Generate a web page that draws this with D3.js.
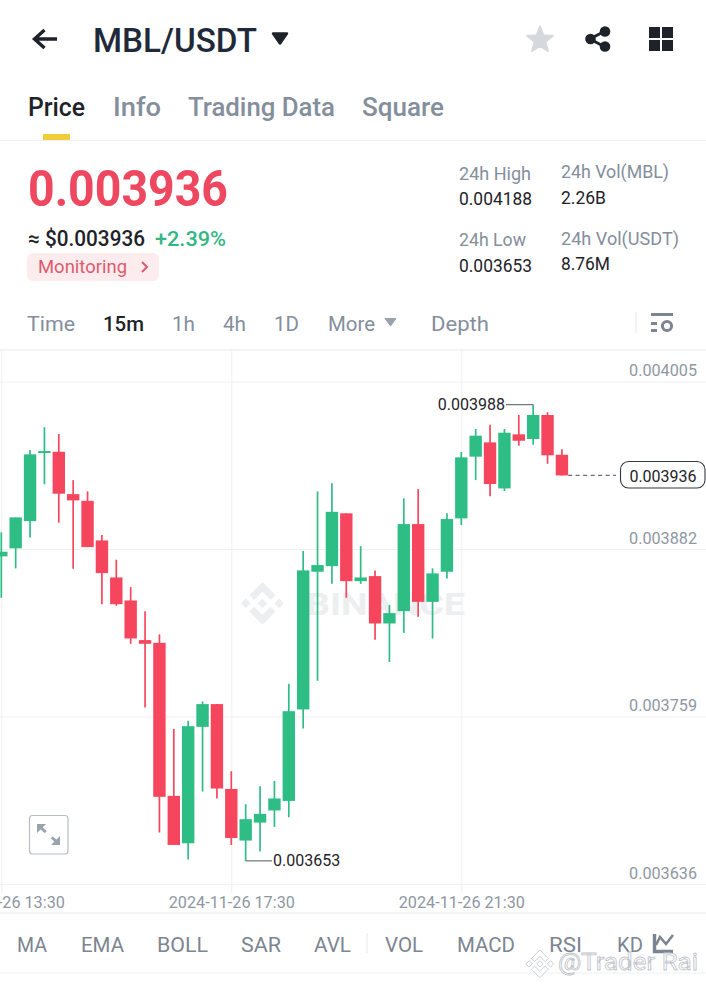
<!DOCTYPE html>
<html>
<head>
<meta charset="utf-8">
<title>MBL/USDT</title>
<script src="https://cdnjs.cloudflare.com/ajax/libs/d3/7.8.5/d3.min.js"></script>
<style>
  html, body { margin: 0; padding: 0; background: #fff; }
  svg { display: block; font-family: Roboto, sans-serif; }
  text { font-family: Roboto, sans-serif; }
</style>
</head>
<body>
<div id="chart"></div>
<script>
// 15m candles
const candleTimes = [
  "13:30", "13:45", "14:00", "14:15", "14:30", "14:45", "15:00", "15:15",
  "15:30", "15:45", "16:00", "16:15", "16:30", "16:45", "17:00", "17:15",
  "17:30", "17:45", "18:00", "18:15", "18:30", "18:45", "19:00", "19:15",
  "19:30", "19:45", "20:00", "20:15", "20:30", "20:45", "21:00", "21:15",
  "21:30", "21:45", "22:00", "22:15", "22:30", "22:45", "23:00", "23:15"
];
const openPrices = [
  0.0038766, 0.0038825, 0.0039025, 0.0039525, 0.0039534, 0.0039223, 0.0039174, 0.0038883,
  0.0038611, 0.0038442, 0.0038151, 0.0038131, 0.0037007, 0.0036659, 0.0037514, 0.0037681,
  0.0037058, 0.0036679, 0.0036811, 0.0036900, 0.0036970, 0.0037642, 0.0038653, 0.0038694,
  0.0039082, 0.0038584, 0.0038621, 0.0038273, 0.0038364, 0.0039003, 0.0038432, 0.0038653,
  0.0039045, 0.0039498, 0.0039603, 0.0039265, 0.0039662, 0.0039628, 0.0039804, 0.0039512
];
const highPrices = [
  0.0038942, 0.0039052, 0.0039547, 0.0039714, 0.0039664, 0.0039326, 0.0039243, 0.0038922,
  0.0038741, 0.0038540, 0.0038362, 0.0038193, 0.0037499, 0.0037558, 0.0037700, 0.0037681,
  0.0037188, 0.0036946, 0.0037078, 0.0037117, 0.0037830, 0.0038805, 0.0039243, 0.0039302,
  0.0039082, 0.0038841, 0.0038663, 0.0038410, 0.0039192, 0.0039260, 0.0038678, 0.0039082,
  0.0039532, 0.0039701, 0.0039733, 0.0039701, 0.0039804, 0.0039880, 0.0039824, 0.0039552
];
const lowPrices = [
  0.0038462, 0.0038678, 0.0038905, 0.0039295, 0.0039013, 0.0038675, 0.0038834, 0.0038415,
  0.0038403, 0.0038124, 0.0037656, 0.0036738, 0.0036647, 0.0036540, 0.0037039, 0.0036988,
  0.0036647, 0.0036530, 0.0036598, 0.0036779, 0.0036850, 0.0037502, 0.0037852, 0.0038564,
  0.0038462, 0.0038564, 0.0038153, 0.0037991, 0.0038204, 0.0038322, 0.0038163, 0.0038604,
  0.0038996, 0.0039326, 0.0039207, 0.0039246, 0.0039578, 0.0039586, 0.0039446, 0.0039360
];
const closePrices = [
  0.0038800, 0.0039052, 0.0039515, 0.0039539, 0.0039226, 0.0039177, 0.0038834, 0.0038643,
  0.0038415, 0.0038163, 0.0038124, 0.0037000, 0.0036647, 0.0037519, 0.0037681, 0.0037061,
  0.0036698, 0.0036836, 0.0036875, 0.0036988, 0.0037629, 0.0038663, 0.0038702, 0.0039093,
  0.0038584, 0.0038611, 0.0038273, 0.0038349, 0.0039003, 0.0038432, 0.0038641, 0.0039040,
  0.0039493, 0.0039652, 0.0039297, 0.0039674, 0.0039615, 0.0039804, 0.0039508, 0.0039360
];

const priceTicks = [0.004005, 0.003882, 0.003759, 0.003636];
const timeTicks = ["13:30", "17:30", "21:30"];
const dayLabel = "2024-11-26";

const tabLabels = ["Price", "Info", "Trading Data", "Square"];
const intervalLabels = ["Time", "15m", "1h", "4h", "1D", "More", "Depth"];
const indicatorLabels = ["MA", "EMA", "BOLL", "SAR", "AVL", "VOL", "MACD", "RSI", "KD"];

const svgWidth = 706;
const svgHeight = 984;

const red = "#f6465d";
const green = "#2ebd85";
const dark = "#1e2329";
const grey = "#848e9c";
const gridColor = "#eef0f2";

const svg = d3.select("#chart")
  .append("svg")
  .attr("width", svgWidth)
  .attr("height", svgHeight);

// text helper, w forces the drawn width so the layout lines up
function label(text, x, y, size, color, opts = {}) {
  const t = svg.append("text")
    .attr("x", x)
    .attr("y", y)
    .attr("font-size", size)
    .attr("fill", color)
    .attr("font-weight", opts.weight || 400)
    .attr("text-anchor", opts.anchor || "start")
    .text(text);
  if (opts.w) {
    t.attr("textLength", opts.w).attr("lengthAdjust", "spacingAndGlyphs");
  }
  return t;
}

const bnbLogo = "M38.73 53.2l24.27-24.26 24.28 24.27 14.12-14.12L63 0 24.61 39.08l14.12 14.12zM0 63l14.12-14.12L28.24 63 14.12 77.12 0 63zm38.73 9.8L63 97.06l24.28-24.27 14.13 14.11L63 126 24.6 86.92l14.13-14.12zM97.76 63l14.12-14.12L126 63l-14.12 14.12L97.76 63zM77.32 63L63 48.68 52.41 59.27l-1.22 1.22-2.51 2.51L63 77.32 77.32 63z";

// ---- header ----
svg.append("path")
  .attr("d", "M57 39H35M44.5 30L34.5 39L44.5 48")
  .attr("fill", "none")
  .attr("stroke", dark)
  .attr("stroke-width", 3.4);

label("MBL/USDT", 93, 52, 33, "#1e2a3a", { weight: 500, w: 164 });
svg.append("path")
  .attr("d", "M273 33.5H287L280 43.5Z")
  .attr("fill", dark)
  .attr("stroke", dark)
  .attr("stroke-width", 2.5)
  .attr("stroke-linejoin", "round");

// star
svg.append("path")
  .attr("d", d3.range(10).map(i => {
    const r = i % 2 ? 6 : 14;
    const a = -Math.PI / 2 + i * Math.PI / 5;
    return (i ? "L" : "M") + (540 + r * Math.cos(a)).toFixed(1) + " " + (40 + r * Math.sin(a)).toFixed(1);
  }).join("") + "Z")
  .attr("fill", "#d5d9de")
  .attr("stroke", "#d5d9de")
  .attr("stroke-width", 1.5)
  .attr("stroke-linejoin", "round");

// share
svg.append("path")
  .attr("d", "M605 31L590 39L605 47")
  .attr("fill", "none")
  .attr("stroke", dark)
  .attr("stroke-width", 3);
[[605, 31.5], [590.5, 39], [605, 46.5]].forEach(c => {
  svg.append("circle").attr("cx", c[0]).attr("cy", c[1]).attr("r", 5.3).attr("fill", dark);
});

// grid icon
[[649, 27], [662, 27], [649, 40], [662, 40]].forEach(c => {
  svg.append("rect").attr("x", c[0]).attr("y", c[1]).attr("width", 11).attr("height", 11).attr("fill", dark);
});

// ---- tabs ----
label(tabLabels[0], 28, 116, 25, dark, { weight: 500, w: 57 });
label(tabLabels[1], 113, 116, 25, grey, { weight: 500, w: 48 });
label(tabLabels[2], 188, 116, 25, grey, { weight: 500, w: 147 });
label(tabLabels[3], 362, 116, 25, grey, { weight: 500, w: 82 });
svg.append("rect").attr("x", 43).attr("y", 134).attr("width", 27).attr("height", 6).attr("fill", "#f0ce3b");
svg.append("line").attr("x1", 0).attr("x2", svgWidth).attr("y1", 140.5).attr("y2", 140.5).attr("stroke", gridColor);

// ---- price block ----
label("0.003936", 28, 206, 50, "#ee4860", { weight: 700, w: 200 });
label("≈ $0.003936", 28, 246, 21.5, dark, { weight: 500, w: 117 });
label("+2.39%", 155, 246, 21, "#33b685", { weight: 500, w: 71 });

svg.append("rect")
  .attr("x", 27).attr("y", 253).attr("width", 132).attr("height", 28).attr("rx", 6)
  .attr("fill", "#fdecee");
label("Monitoring", 38, 273, 18.5, "#dc5b6f", { w: 89 });
svg.append("path")
  .attr("d", "M142 262L147 267L142 272")
  .attr("fill", "none")
  .attr("stroke", "#dc5b6f")
  .attr("stroke-width", 2);

label("24h High", 459, 180, 18, grey, { w: 72 });
label("0.004188", 459, 205, 17.5, dark, { w: 73 });
label("24h Low", 459, 246, 18, grey, { w: 67 });
label("0.003653", 459, 272, 17.5, dark, { w: 73 });
label("24h Vol(MBL)", 561, 178, 18, grey, { w: 108 });
label("2.26B", 561, 204, 17.5, dark, { w: 45 });
label("24h Vol(USDT)", 561, 245, 18, grey, { w: 118 });
label("8.76M", 561, 270, 17.5, dark, { w: 49 });

// ---- interval row ----
label(intervalLabels[0], 27, 331, 21, grey, { w: 48 });
label(intervalLabels[1], 103, 331, 21, dark, { weight: 500, w: 41 });
label(intervalLabels[2], 172, 331, 21, grey, { w: 23 });
label(intervalLabels[3], 223, 331, 21, grey, { w: 23 });
label(intervalLabels[4], 274, 331, 21, grey, { w: 25 });
label(intervalLabels[5], 328, 331, 21, grey, { w: 47 });
svg.append("path").attr("d", "M385 318.5H396L390.5 326Z")
  .attr("fill", "#9aa2ad")
  .attr("stroke", "#9aa2ad")
  .attr("stroke-linejoin", "round");
label(intervalLabels[6], 431, 331, 21, grey, { w: 58 });

svg.append("line").attr("x1", 636).attr("x2", 636).attr("y1", 312).attr("y2", 333).attr("stroke", "#e6e8ea");
svg.append("path")
  .attr("d", "M651 313H673V316H651ZM651 322H657V325H651ZM651 329H657V332H651Z")
  .attr("fill", "#7c8591");
svg.append("circle").attr("cx", 667).attr("cy", 326).attr("r", 4.6)
  .attr("fill", "none").attr("stroke", "#7c8591").attr("stroke-width", 3);

// ---- chart ----
const y = d3.scaleLinear()
  .domain([priceTicks[3], priceTicks[0]])
  .range([884, 381.5]);

const parseTime = d3.utcParse("%Y-%m-%d %H:%M");
const x = d3.scaleUtc()
  .domain([parseTime(`${dayLabel} 13:30`), parseTime(`${dayLabel} 21:30`)])
  .range([1.3, 461.3]);

const candles = candleTimes.map((t, i) => ({
  time: parseTime(`${dayLabel} ${t}`),
  open: openPrices[i],
  high: highPrices[i],
  low: lowPrices[i],
  close: closePrices[i]
}));

svg.append("line").attr("x1", 0).attr("x2", svgWidth).attr("y1", 350).attr("y2", 350).attr("stroke", gridColor).attr("stroke-width", 1.5);

// horizontal grid + price labels
const yAxis = d3.axisRight(y)
  .tickValues(priceTicks)
  .tickSize(svgWidth)
  .tickFormat(d3.format(".6f"));

const yAxisGroup = svg.append("g").call(yAxis);
yAxisGroup.select(".domain").remove();
yAxisGroup.selectAll("line").attr("stroke", gridColor);
yAxisGroup.selectAll("text")
  .attr("x", 697)
  .attr("dy", -6)
  .attr("text-anchor", "end")
  .attr("font-size", 16.2)
  .attr("fill", "#8f97a3");

// vertical grid + time labels
const xAxis = d3.axisBottom(x)
  .tickValues(timeTicks.map(t => parseTime(`${dayLabel} ${t}`)))
  .tickSize(-543)
  .tickPadding(3)
  .tickFormat(d3.utcFormat("%Y-%m-%d %H:%M"));

const xAxisGroup = svg.append("g")
  .attr("transform", "translate(0, 893)")
  .call(xAxis);
xAxisGroup.select(".domain").remove();
xAxisGroup.selectAll("line").attr("stroke", gridColor);
xAxisGroup.selectAll("text")
  .attr("font-size", 16.2)
  .attr("fill", "#8f97a3");

svg.append("line").attr("x1", 0).attr("x2", svgWidth).attr("y1", 913).attr("y2", 913).attr("stroke", gridColor).attr("stroke-width", 1.5);

// watermark under the candles
svg.append("path")
  .attr("d", bnbLogo)
  .attr("transform", "translate(241, 582) scale(0.34)")
  .attr("fill", "#eceef0");
label("BINANCE", 306, 615, 32, "#eceef0", { weight: 700, w: 159 });

// candles
const candleGroup = svg.append("g");
const bodyWidth = 12.4;

candleGroup.selectAll(".wick")
  .data(candles)
  .enter()
  .append("line")
  .attr("class", "wick")
  .attr("x1", d => x(d.time))
  .attr("x2", d => x(d.time))
  .attr("y1", d => y(d.high))
  .attr("y2", d => y(d.low))
  .attr("stroke", d => d.close >= d.open ? green : red)
  .attr("stroke-width", 1.7);

candleGroup.selectAll(".body")
  .data(candles)
  .enter()
  .append("rect")
  .attr("class", "body")
  .attr("x", d => x(d.time) - bodyWidth / 2)
  .attr("width", bodyWidth)
  .attr("y", d => y(Math.max(d.open, d.close)))
  .attr("height", d => Math.abs(y(d.open) - y(d.close)))
  .attr("fill", d => d.close >= d.open ? green : red);

// high / low callouts
const highCandle = d3.greatest(candles, d => d.high);
const lowCandle = d3.least(candles, d => d.low);

svg.append("path")
  .attr("d", `M${x(highCandle.time)} ${y(highCandle.high)}H506`)
  .attr("fill", "none")
  .attr("stroke", "#6b7178")
  .attr("stroke-width", 1.2);
label(d3.format(".6f")(highCandle.high), 505, y(highCandle.high) + 5.5, 16, dark, { anchor: "end" });

svg.append("path")
  .attr("d", `M${x(lowCandle.time)} ${y(lowCandle.low)}H272`)
  .attr("fill", "none")
  .attr("stroke", "#6b7178")
  .attr("stroke-width", 1.2);
label(d3.format(".6f")(lowCandle.low), 273, y(lowCandle.low) + 5.5, 16, dark);

// last price marker
const lastCandle = candles[candles.length - 1];
const lastY = y(lastCandle.close);

svg.append("line")
  .attr("x1", x(lastCandle.time) + bodyWidth / 2)
  .attr("x2", 616)
  .attr("y1", lastY)
  .attr("y2", lastY)
  .attr("stroke", "#6b7178")
  .attr("stroke-width", 1.2)
  .attr("stroke-dasharray", "4 3.5");
svg.append("rect")
  .attr("x", 620.5).attr("y", 461.5).attr("width", 84.5).attr("height", 26.5).attr("rx", 8)
  .attr("fill", "#fff")
  .attr("stroke", "#33383e")
  .attr("stroke-width", 1.1);
label(d3.format(".6f")(lastCandle.close), 663, 481.5, 16, dark, { anchor: "middle" });

// fullscreen button
svg.append("rect")
  .attr("x", 29.5).attr("y", 815.5).attr("width", 38.5).attr("height", 38.5).attr("rx", 3)
  .attr("fill", "#fff")
  .attr("stroke", "#b7bdc6")
  .attr("stroke-width", 1.2);
svg.append("path")
  .attr("d", "M37 824H46L37 833ZM60 845H51L60 836Z")
  .attr("fill", "#9aa2ad");
svg.append("path")
  .attr("d", "M40 827L57 842")
  .attr("stroke", "#9aa2ad")
  .attr("stroke-width", 3);
svg.append("rect").attr("x", 45).attr("y", 830).attr("width", 8).attr("height", 9).attr("fill", "#fff").attr("transform", "rotate(41 49 834.5)");

// ---- indicator row ----
label(indicatorLabels[0], 17, 952, 20, "#7c8591", { w: 30 });
label(indicatorLabels[1], 81, 952, 20, "#7c8591", { w: 43 });
label(indicatorLabels[2], 157, 952, 20, "#7c8591", { w: 51 });
label(indicatorLabels[3], 241, 952, 20, "#7c8591", { w: 40 });
label(indicatorLabels[4], 314, 952, 20, "#7c8591", { w: 37 });
svg.append("line").attr("x1", 367).attr("x2", 367).attr("y1", 933).attr("y2", 953).attr("stroke", "#e6e8ea");
label(indicatorLabels[5], 385, 952, 20, "#7c8591", { w: 38 });
label(indicatorLabels[6], 457, 952, 20, "#7c8591", { w: 58 });
label(indicatorLabels[7], 549, 952, 20, "#7c8591", { w: 33 });
label(indicatorLabels[8], 617, 952, 20, "#7c8591", { w: 26 });

svg.append("path")
  .attr("d", "M654.5 934V951.5H673")
  .attr("fill", "none")
  .attr("stroke", "#7c8591")
  .attr("stroke-width", 3.4);
svg.append("path")
  .attr("d", "M656 945L660 937L666 944L673 935")
  .attr("fill", "none")
  .attr("stroke", "#7c8591")
  .attr("stroke-width", 2.6);

svg.append("line").attr("x1", 0).attr("x2", svgWidth).attr("y1", 973).attr("y2", 973).attr("stroke", gridColor);

// reposter watermark at the bottom right
svg.append("path")
  .attr("d", bnbLogo)
  .attr("transform", "translate(526, 950) scale(0.22)")
  .attr("fill", "#fff")
  .attr("stroke", "#c3c8ce")
  .attr("stroke-width", 4);
label("@Trader Rai", 558, 970, 24, "#fff", { w: 140 })
  .attr("stroke", "#bfc4ca")
  .attr("stroke-width", 0.8);
</script>
</body>
</html>
